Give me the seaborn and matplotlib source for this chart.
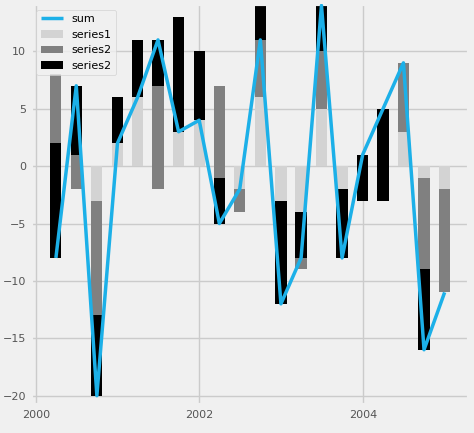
import matplotlib
matplotlib.use("Agg")
import matplotlib.pyplot as plt
import matplotlib.dates as mdates
import seaborn as sns
import numpy as np
import pandas as pd

dates = pd.date_range("2000-03-31", periods=20, freq="QE")
series1 = [8, -2, -3, 2, 6, -2, 3, 4, 7, -4, 6, -3, -9, 5, -2, -3, -3, 3, -1, -2]
series2a = [-6, 3, -10, 4, 5, 9, 10, 6, -8, 2, 8, 0, 5, 5, 0, 0, 0, 6, -8, -9]
series2b = [-10, 6, -7, -4, -5, 4, -10, -6, -4, 0, -3, -9, -4, 4, -6, 4, 8, 0, -7, 0]

plt.style.use("fivethirtyeight")
sns.set_style({"axes.facecolor": "#f0f0f0", "figure.facecolor": "#f0f0f0"})
fig, ax = plt.subplots(figsize=(4.74, 4.33), dpi=100)
fig.subplots_adjust(left=0.065, right=0.99, top=0.99, bottom=0.065)

s1 = np.array(series1); s2 = np.array(series2a); s3 = np.array(series2b)
x = mdates.date2num(dates)
w = 50
ax.bar(x, s1, width=w, color="#d3d3d3", label="series1", zorder=2)
ax.bar(x, s2, width=w, bottom=s1, color="#808080", label="series2", zorder=2)
ax.bar(x, s3, width=w, bottom=s1 + s2, color="black", label="series2", zorder=2)
df = pd.DataFrame({"date": x, "sum": s1 + s2 + s3})
sns.lineplot(data=df, x="date", y="sum", color="#1cb0e8", linewidth=2.5, ax=ax, label="sum", zorder=3)

ax.set_ylim(-20.8, 14.1)
ax.set_xlim(mdates.date2num(pd.Timestamp("1999-12-10")), mdates.date2num(pd.Timestamp("2005-04-20")))
ax.set_yticks([-20, -15, -10, -5, 0, 5, 10])
ax.xaxis.set_major_locator(mdates.YearLocator(2))
ax.xaxis.set_major_formatter(mdates.DateFormatter("%Y"))
ax.set_xlabel(""); ax.set_ylabel("")
ax.tick_params(labelsize=8, colors="#555555")
ax.grid(True, color="#cbcbcb", linewidth=1, zorder=0)
ax.set_axisbelow(True)
h, l = ax.get_legend_handles_labels()
order = [l.index("sum")] + [i for i, t in enumerate(l) if t != "sum"]
ax.legend([h[i] for i in order], [l[i] for i in order], loc="upper left", fontsize=8, framealpha=0.8)
fig.savefig("out.png", dpi=100, facecolor="#f0f0f0")
